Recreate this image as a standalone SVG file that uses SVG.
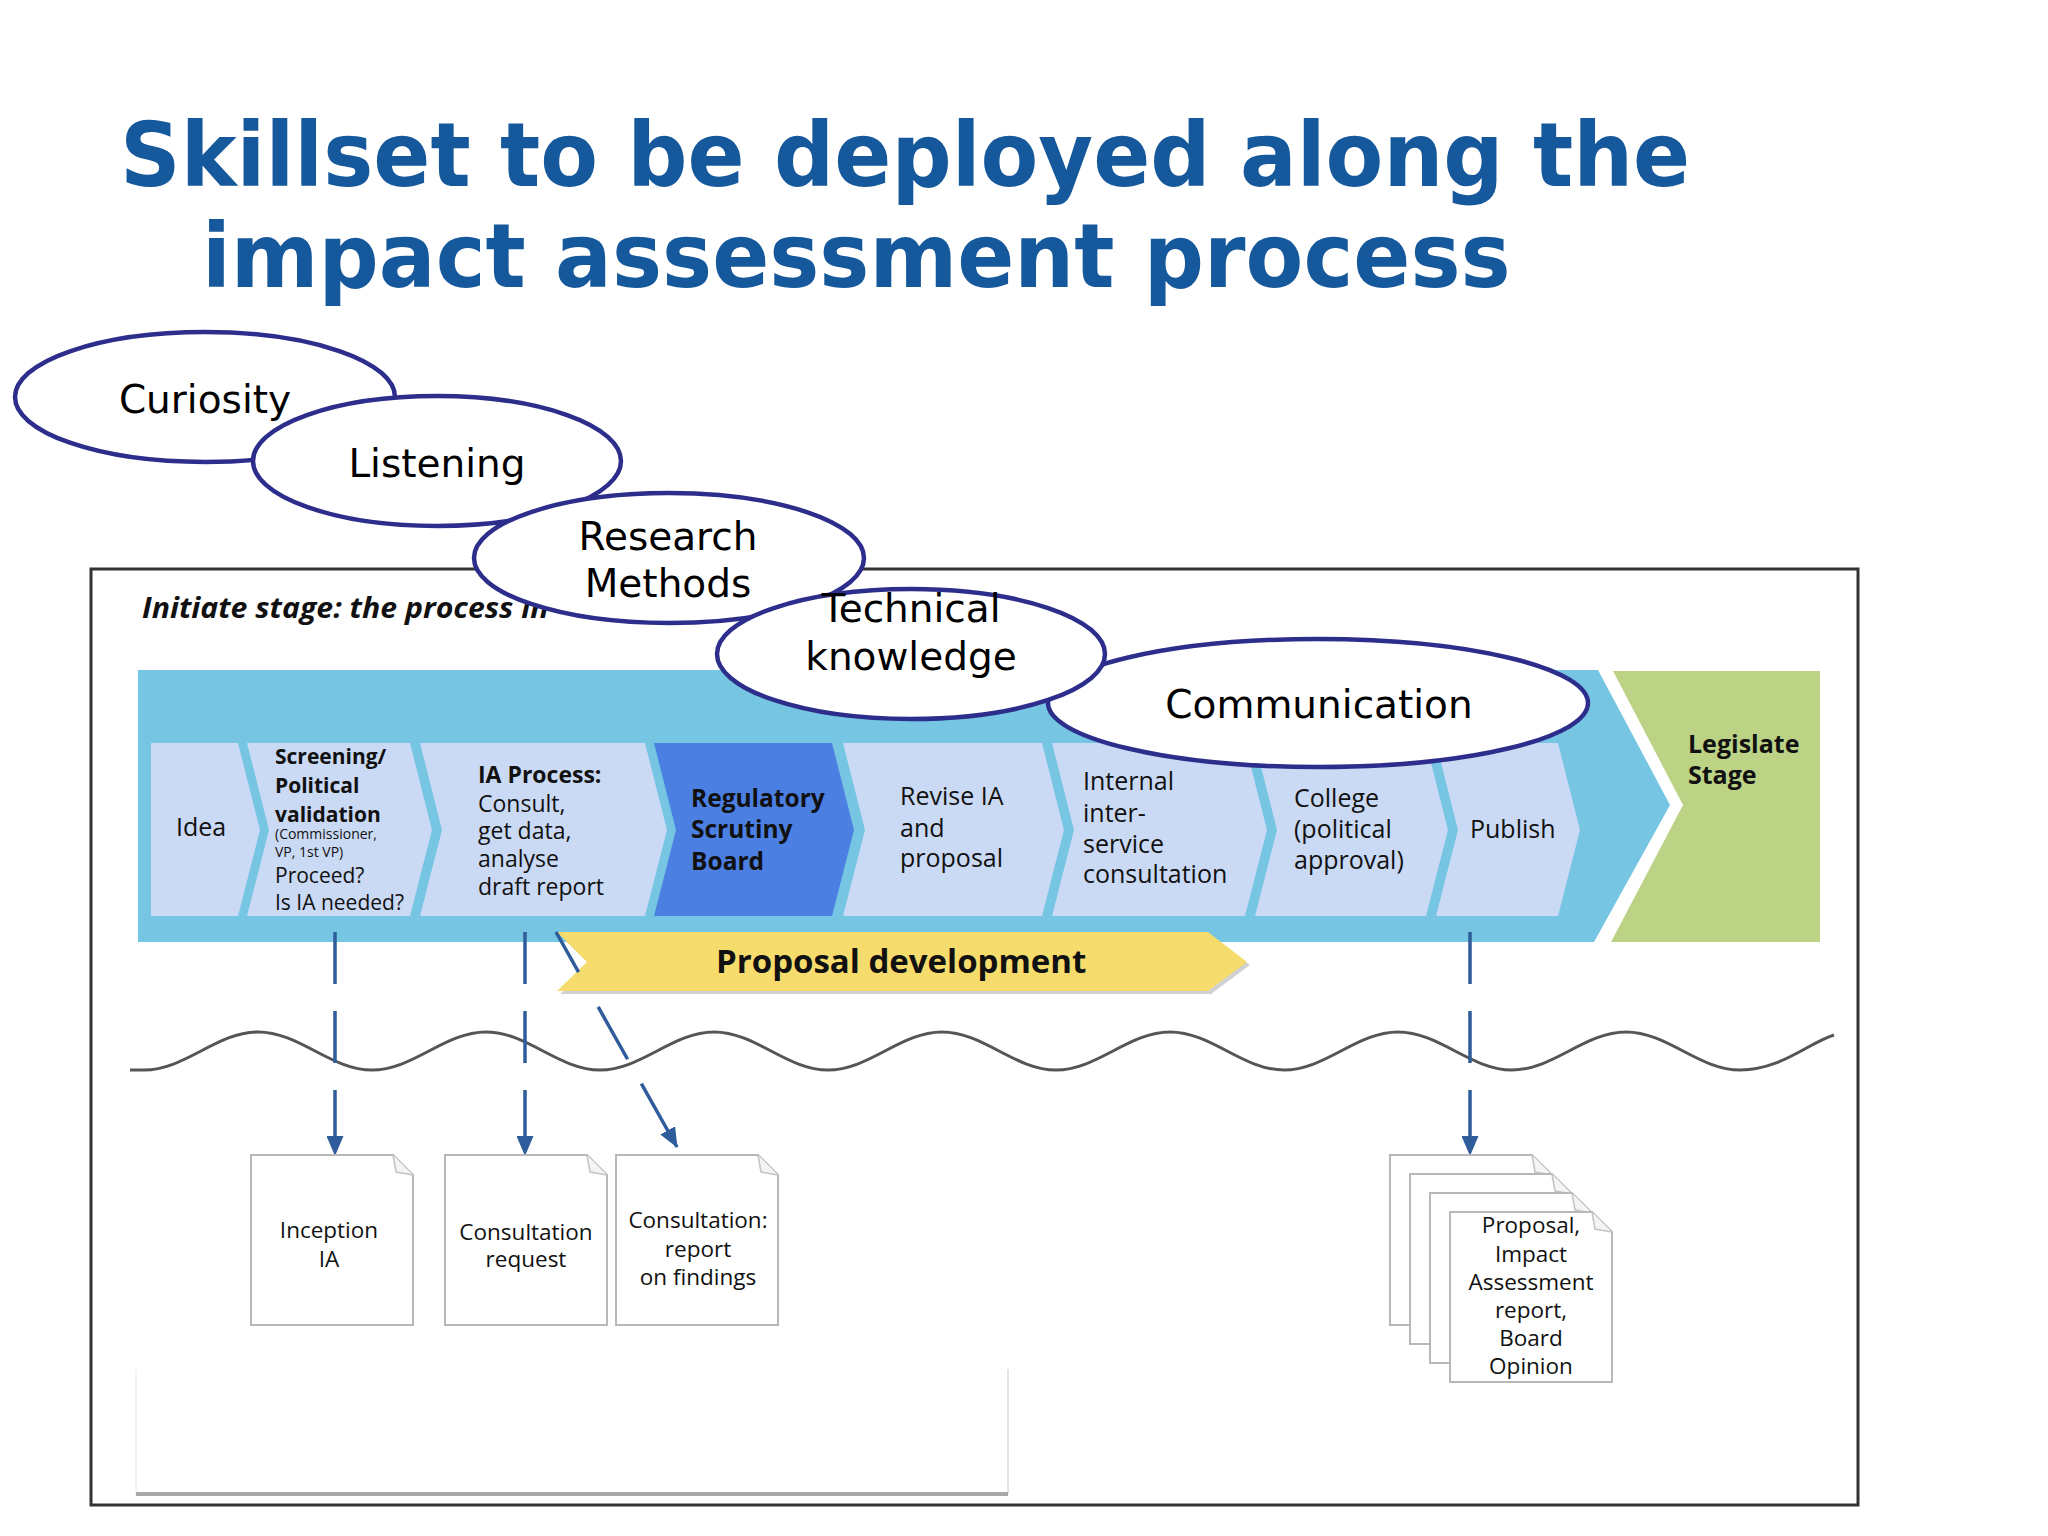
<svg xmlns="http://www.w3.org/2000/svg" xmlns:xlink="http://www.w3.org/1999/xlink" width="2048" height="1536" viewBox="0 0 2048 1536">
<defs>
<style>
.title{font-family:"DejaVu Sans",Verdana,sans-serif;font-weight:bold;font-size:89px;fill:#15589b}
.ell{fill:#ffffff;stroke:#2d2e8c;stroke-width:4.5}
.skill{font-family:"DejaVu Sans",sans-serif;font-size:39px;fill:#000;text-anchor:middle}
.step{fill:#cad9f4}
.lbl{font-family:"Open Sans",sans-serif;font-size:25px;fill:#111}
.b{font-weight:bold}
.small{font-size:14px}
.scr{font-size:21px}
.ia{font-size:23px}
.rsb{font-size:24.5px}
.doctxt{font-family:"Open Sans",sans-serif;font-size:22.5px;fill:#111;text-anchor:middle}
.docbody{fill:#ffffff;stroke:#b8b8b8;stroke-width:2}
.dash{fill:none;stroke:#2f5c9a;stroke-width:3.5;stroke-dasharray:52 27;marker-end:url(#arr)}
</style>
<marker id="arr" viewBox="0 0 20 17" refX="19" refY="8.5" markerWidth="20" markerHeight="17" markerUnits="userSpaceOnUse" orient="auto">
<path d="M0,0 L20,8.5 L0,17 Z" fill="#2f5c9a"/>
</marker>
<g id="doc">
<path class="docbody" d="M0,0 H142 L162,20 V170 H0 Z"/>
<path d="M142,0 L145,17 L162,20" fill="#f4f4f4" stroke="#c4c4c4" stroke-width="1.5"/>
</g>
</defs>
<rect x="0" y="0" width="2048" height="1536" fill="#ffffff"/>

<g id="title">
<text class="title" transform="translate(120,186) scale(0.946,1)">Skillset to be deployed along the</text>
<text class="title" transform="translate(202,287) scale(0.946,1)">impact assessment process</text>
</g>

<g id="frame">
<rect x="91" y="569" width="1767" height="936" fill="none" stroke="#333333" stroke-width="3"/>
<line x1="1008" y1="1369" x2="1008" y2="1494" stroke="#dddddd" stroke-width="1.5"/>
<line x1="136" y1="1369" x2="136" y2="1494" stroke="#f0f0f0" stroke-width="1.5"/>
<line x1="136" y1="1494" x2="1008" y2="1494" stroke="#a8a8a8" stroke-width="4"/>
<text transform="translate(142,618) scale(1.08,1)" font-family="'Open Sans',sans-serif" font-size="28" font-weight="bold" font-style="italic" fill="#111">Initiate stage: the process in</text>
</g>

<g id="band">
<polygon points="138,670 1598,670 1670,805 1594,942 138,942" fill="#75c5e3"/>
</g>
<g id="legislate">
<polygon points="1613,671 1820,671 1820,942 1611,942 1683,805" fill="#bcd386"/>
<text class="lbl b" x="1688" y="753">Legislate</text>
<text class="lbl b" x="1688" y="784">Stage</text>
</g>

<g id="step-idea">
<polygon class="step" points="151,743 238,743 260,830 238,916 151,916"/>
<text class="lbl" x="176" y="836">Idea</text>
</g>
<g id="step-screening">
<polygon class="step" points="247,743 410,743 432,830 410,916 247,916 269,830"/>
<text class="lbl b scr" x="275" y="764">Screening/</text>
<text class="lbl b scr" x="275" y="793">Political</text>
<text class="lbl b scr" x="275" y="822">validation</text>
<text class="lbl small" x="275" y="839">(Commissioner,</text>
<text class="lbl small" x="275" y="857">VP, 1st VP)</text>
<text class="lbl scr" x="275" y="883">Proceed?</text>
<text class="lbl scr" x="275" y="910">Is IA needed?</text>
</g>
<g id="step-ia">
<polygon class="step" points="420,743 645,743 667,830 645,916 420,916 442,830"/>
<text class="lbl ia b" x="478" y="783">IA Process:</text>
<text class="lbl ia" x="478" y="812">Consult,</text>
<text class="lbl ia" x="478" y="839">get data,</text>
<text class="lbl ia" x="478" y="867">analyse</text>
<text class="lbl ia" x="478" y="895">draft report</text>
</g>
<g id="step-rsb">
<polygon points="654,743 832,743 854,830 832,916 654,916 676,830" fill="#4b7fe2"/>
<text class="lbl rsb b" x="691" y="807">Regulatory</text>
<text class="lbl rsb b" x="691" y="838">Scrutiny</text>
<text class="lbl rsb b" x="691" y="870">Board</text>
</g>
<g id="step-revise">
<polygon class="step" points="843,743 1042,743 1064,830 1042,916 843,916 865,830"/>
<text class="lbl" x="900" y="805">Revise IA</text>
<text class="lbl" x="900" y="837">and</text>
<text class="lbl" x="900" y="867">proposal</text>
</g>
<g id="step-internal">
<polygon class="step" points="1052,743 1245,743 1267,830 1245,916 1052,916 1074,830"/>
<text class="lbl" x="1083" y="790">Internal</text>
<text class="lbl" x="1083" y="822">inter-</text>
<text class="lbl" x="1083" y="853">service</text>
<text class="lbl" x="1083" y="883">consultation</text>
</g>
<g id="step-college">
<polygon class="step" points="1255,743 1426,743 1448,830 1426,916 1255,916 1277,830"/>
<text class="lbl" x="1294" y="807">College</text>
<text class="lbl" x="1294" y="838">(political</text>
<text class="lbl" x="1294" y="869">approval)</text>
</g>
<g id="step-publish">
<polygon class="step" points="1436,743 1558,743 1580,830 1558,916 1436,916 1458,830"/>
<text class="lbl" x="1470" y="838">Publish</text>
</g>

<g id="proposal-development">
<polygon points="560,935 1211,935 1250,965 1211,994 560,994 590,965" fill="#9a9a9a" opacity="0.45"/>
<polygon points="557,932 1208,932 1247,962 1208,991 557,991 587,962" fill="#f6dc6c"/>
<text x="716" y="973" font-family="'Open Sans',sans-serif" font-size="33" font-weight="bold" fill="#111">Proposal development</text>
</g>

<g id="wave">
<path d="M130 1070 L144 1070 C185.4 1070 216.6 1032 258 1032 S330.6 1070 372 1070 S444.6 1032 486 1032 S558.6 1070 600 1070 S672.6 1032 714 1032 S786.6 1070 828 1070 S900.6 1032 942 1032 S1014.6 1070 1056 1070 S1128.6 1032 1170 1032 S1242.6 1070 1284 1070 S1356.6 1032 1398 1032 S1470.6 1070 1512 1070 S1584.6 1032 1626 1032 S1698.6 1070 1740 1070 C1781 1070 1808 1043 1834 1035" fill="none" stroke="#555555" stroke-width="3"/>
</g>

<g id="connectors">
<line class="dash" x1="335" y1="932" x2="335" y2="1155"/>
<line class="dash" x1="525" y1="932" x2="525" y2="1155"/>
<line class="dash" x1="556" y1="932" x2="677" y2="1147" style="stroke-dasharray:46 40 60 28 120"/>
<line class="dash" x1="1470" y1="932" x2="1470" y2="1155"/>
</g>

<g id="doc-inception">
<use xlink:href="#doc" x="251" y="1155"/>
<text class="doctxt" x="329" y="1238">Inception</text>
<text class="doctxt" x="329" y="1267">IA</text>
</g>
<g id="doc-consultation-request">
<use xlink:href="#doc" x="445" y="1155"/>
<text class="doctxt" x="526" y="1240">Consultation</text>
<text class="doctxt" x="526" y="1267">request</text>
</g>
<g id="doc-consultation-report">
<use xlink:href="#doc" x="616" y="1155"/>
<text class="doctxt" x="698" y="1228">Consultation:</text>
<text class="doctxt" x="698" y="1257">report</text>
<text class="doctxt" x="698" y="1285">on findings</text>
</g>
<g id="doc-proposal-stack">
<use xlink:href="#doc" x="1390" y="1155"/>
<use xlink:href="#doc" x="1410" y="1174"/>
<use xlink:href="#doc" x="1430" y="1193"/>
<use xlink:href="#doc" x="1450" y="1212"/>
<text class="doctxt" x="1531" y="1233">Proposal,</text>
<text class="doctxt" x="1531" y="1262">Impact</text>
<text class="doctxt" x="1531" y="1290">Assessment</text>
<text class="doctxt" x="1531" y="1318">report,</text>
<text class="doctxt" x="1531" y="1346">Board</text>
<text class="doctxt" x="1531" y="1374">Opinion</text>
</g>

<g id="skill-curiosity">
<ellipse class="ell" cx="205" cy="397" rx="190" ry="65"/>
<text class="skill" x="205" y="413">Curiosity</text>
</g>
<g id="skill-listening">
<ellipse class="ell" cx="437" cy="461" rx="184" ry="65"/>
<text class="skill" x="437" y="477">Listening</text>
</g>
<g id="skill-research">
<ellipse class="ell" cx="669" cy="558" rx="195" ry="65"/>
<text class="skill" x="668" y="550">Research</text>
<text class="skill" x="668" y="597">Methods</text>
</g>
<g id="skill-communication">
<ellipse class="ell" cx="1318" cy="703" rx="270" ry="64"/>
<text class="skill" x="1319" y="718">Communication</text>
</g>
<g id="skill-technical">
<ellipse class="ell" cx="911" cy="654" rx="194" ry="65"/>
<text class="skill" x="911" y="622">Technical</text>
<text class="skill" x="911" y="670">knowledge</text>
</g>
</svg>
